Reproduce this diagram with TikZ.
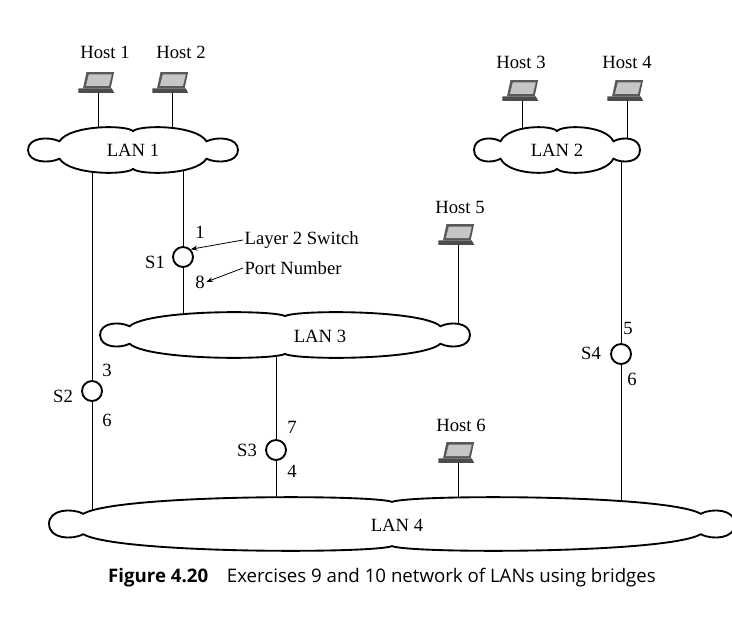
\documentclass[tikz,border=0pt]{standalone}
\usepackage{fontspec}
\setmainfont{Liberation Serif}
\newfontfamily\capfont{Open Sans}
\usetikzlibrary{arrows.meta}
\begin{document}
\begin{tikzpicture}[x=0.75pt,y=-0.75pt,
  lbl/.style={font=\fontsize{14}{14}\selectfont,inner sep=1pt},
  sw/.style={circle,draw,line width=1.4pt,minimum size=15pt,inner sep=0pt},
  lnk/.style={line width=0.6pt},
  pics/lan/.style n args={3}{code={
    \begin{scope}[xscale=#1,yscale=#2]
    \draw[line width=1.4pt,fill=white] (-1,0)
      .. controls (-1,-0.55) and ({-1+(1-#3)*0.66},-0.6) .. (-#3,-0.38)
      .. controls ({-#3+0.1},-1.1) and (-0.06,-1.1) .. (0,-0.82)
      .. controls (0.06,-1.1) and ({#3-0.1},-1.1) .. (#3,-0.38)
      .. controls ({1-(1-#3)*0.66},-0.6) and (1,-0.55) .. (1,0)
      .. controls (1,0.55) and ({1-(1-#3)*0.66},0.6) .. (#3,0.38)
      .. controls ({#3-0.1},1.1) and (0.06,1.1) .. (0,0.82)
      .. controls (-0.06,1.1) and ({-#3+0.1},1.1) .. (-#3,0.38)
      .. controls ({-1+(1-#3)*0.66},0.6) and (-1,0.55) .. cycle;
    \end{scope}}},
  laptop/.pic={
    \begin{scope}[scale=1.15]
    \fill[gray!70!black] (-10,-12) -- (14,-12) -- (11,2) -- (-13,2) -- cycle;
    \fill[gray!45] (-8,-10) -- (12,-10) -- (9.5,0) -- (-10.5,0) -- cycle;
    \fill[gray!60!black] (-17,2) -- (12,2) -- (14,6) -- (-17,6) -- cycle;
    \end{scope}
    \coordinate (-b) at (0,7);
  }]
\useasboundingbox (0,0) rectangle (732,635);
% host links (drawn first, clouds cover ends)
\pic (h1) at (98,86) {laptop};
\pic (h2) at (172,86) {laptop};
\pic (h3) at (522,94) {laptop};
\pic (h4) at (627,94) {laptop};
\pic (h5) at (458,238) {laptop};
\pic (h6) at (458,456) {laptop};
\coordinate (l1) at (98,140);
\coordinate (l2) at (172,140);
\coordinate (l3) at (522,140);
\coordinate (l4) at (627,140);
\coordinate (l5) at (458,330);
\coordinate (l6) at (458,515);
\draw[lnk] (h1-b) -- (l1);
\draw[lnk] (h2-b) -- (l2);
\draw[lnk] (h3-b) -- (l3);
\draw[lnk] (h4-b) -- (l4);
\draw[lnk] (h5-b) -- (l5);
\draw[lnk] (h6-b) -- (l6);
% switches and links
\node[sw] (s1) at (183,257) {};
\node[sw] (s2) at (92,391) {};
\node[sw] (s3) at (276,450) {};
\node[sw] (s4) at (621,354) {};
\coordinate (a1) at (183,160);
\coordinate (b1) at (183,330);
\coordinate (a2) at (92,160);
\coordinate (b2) at (92,520);
\coordinate (a3) at (276,340);
\coordinate (b3) at (276,520);
\coordinate (a4) at (621,160);
\coordinate (b4) at (621,520);
\draw[lnk] (a1) -- (s1) -- (b1);
\draw[lnk] (a2) -- (s2) -- (b2);
\draw[lnk] (a3) -- (s3) -- (b3);
\draw[lnk] (a4) -- (s4) -- (b4);
% clouds
\pic at (133,150) {lan={105}{23}{0.7}};
\pic at (557,150) {lan={83}{23}{0.68}};
\pic at (285,335) {lan={185}{23}{0.84}};
\pic at (392,524) {lan={343}{27}{0.9}};
\node[lbl] (lan1) at (133,150) {LAN 1};
\node[lbl] (lan2) at (557,150) {LAN 2};
\node[lbl] (lan3) at (320,336) {LAN 3};
\node[lbl] (lan4) at (397,525) {LAN 4};
% host labels
\node[lbl] (t1) at (105,52) {Host 1};
\node[lbl] (t2) at (181,52) {Host 2};
\node[lbl] (t3) at (521,62) {Host 3};
\node[lbl] (t4) at (627,62) {Host 4};
\node[lbl] (t5) at (460,207) {Host 5};
\node[lbl] (t6) at (461,425) {Host 6};
% switch labels
\node[lbl] (n1s) at (155,262) {S1};
\node[lbl] (n1a) at (200,232) {1};
\node[lbl] (n1b) at (200,282) {8};
\node[lbl] (n2s) at (63,396) {S2};
\node[lbl] (n2a) at (107,370) {3};
\node[lbl] (n2b) at (107,420) {6};
\node[lbl] (n3s) at (247,450) {S3};
\node[lbl] (n3a) at (292,427) {7};
\node[lbl] (n3b) at (292,471) {4};
\node[lbl] (n4s) at (591,353) {S4};
\node[lbl] (n4a) at (628,328) {5};
\node[lbl] (n4b) at (632,379) {6};
% annotations
\node[lbl,anchor=west] (ann1) at (243,240) {Layer 2 Switch};
\node[lbl,anchor=west] (ann2) at (243,268) {Port Number};
\draw[lnk,-{Stealth[length=5pt]}] (ann1.west) -- (s1.north east);
\draw[lnk,-{Stealth[length=5pt]}] (ann2.west) -- (n1b.east);
% caption
\node[font=\capfont\fontsize{14}{16}\selectfont] (cap) at (382,578) {\textbf{Figure 4.20}\quad Exercises 9 and 10 network of LANs using bridges};
\end{tikzpicture}
\end{document}
